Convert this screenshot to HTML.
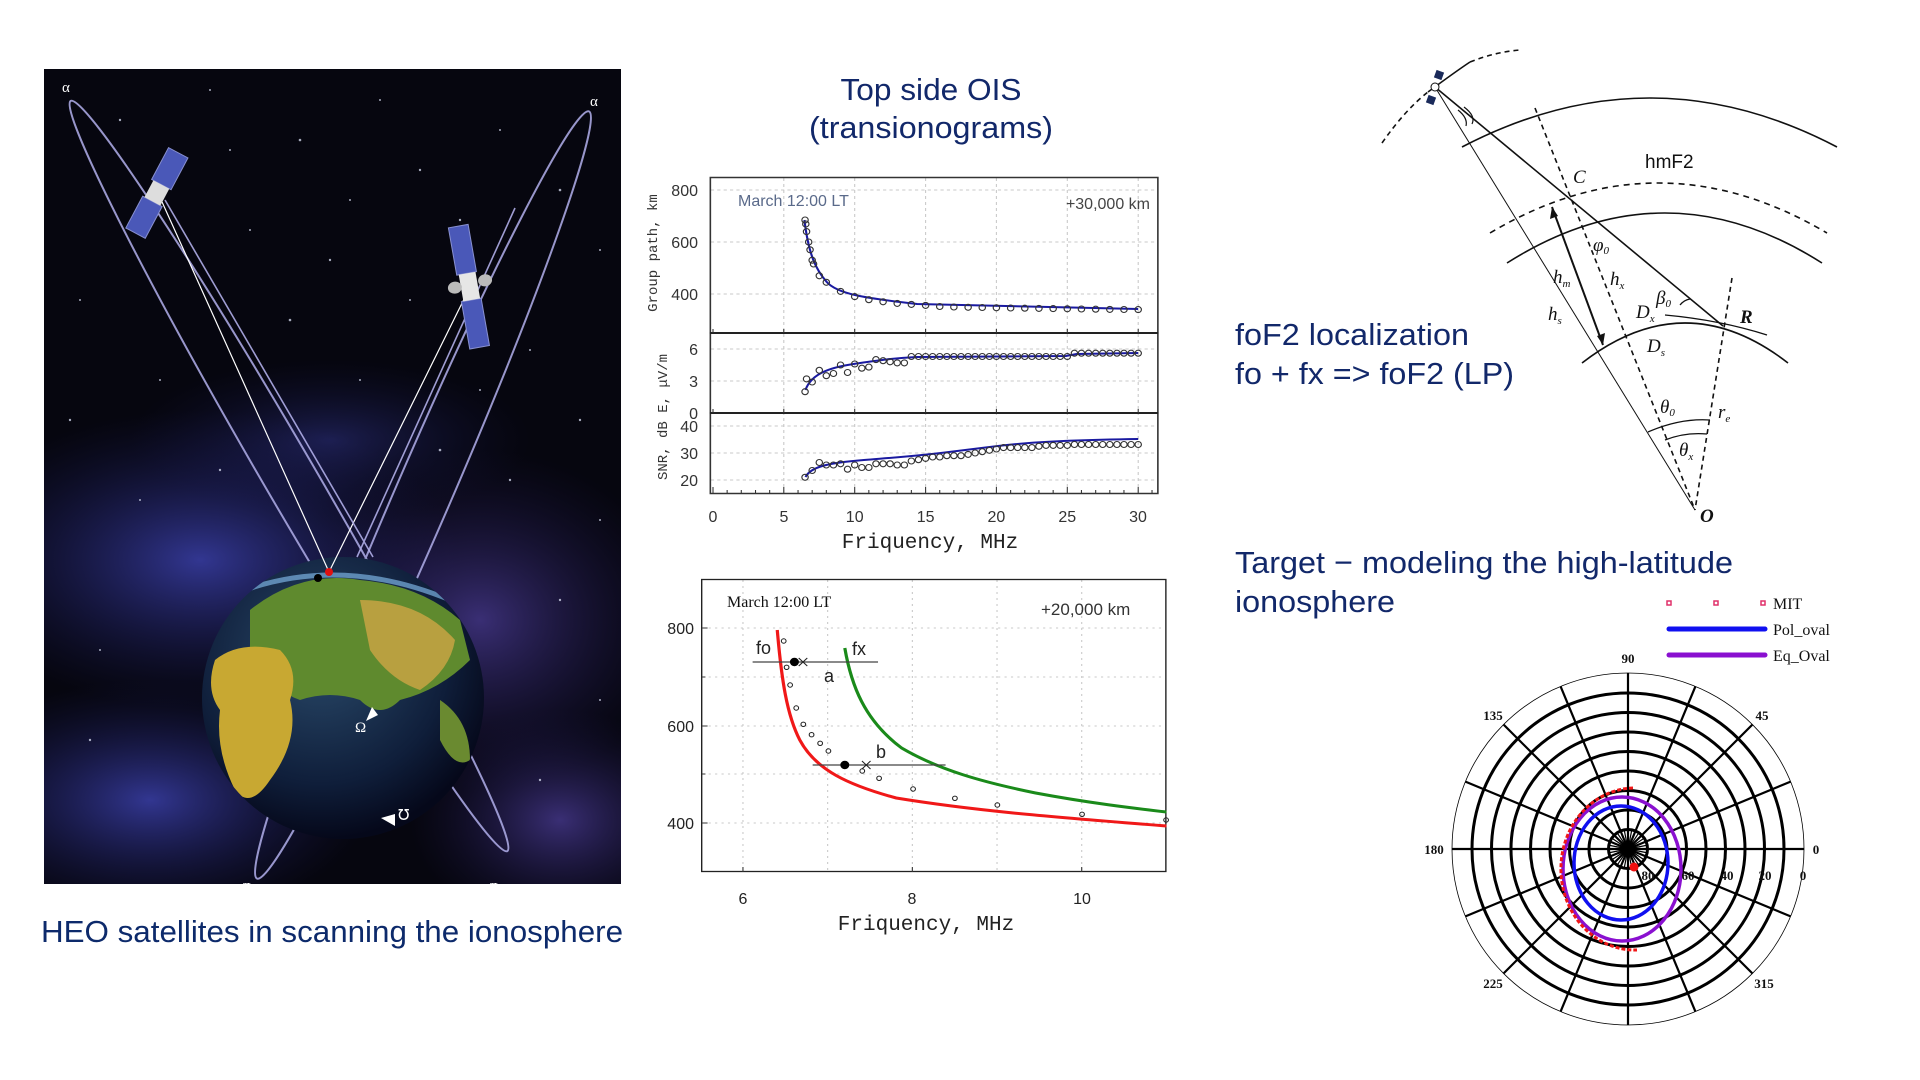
<!DOCTYPE html>
<html><head><meta charset="utf-8"><style>
html,body{margin:0;padding:0;background:#fff;}
svg{display:block;}
</style></head><body>
<svg xmlns="http://www.w3.org/2000/svg" width="1920" height="1080" viewBox="0 0 1920 1080">
<defs>
<radialGradient id="neb1" cx="0.5" cy="0.5" r="0.5"><stop offset="0" stop-color="#3a3fa8" stop-opacity="0.85"/><stop offset="1" stop-color="#1a1a55" stop-opacity="0"/></radialGradient>
<radialGradient id="neb2" cx="0.5" cy="0.5" r="0.5"><stop offset="0" stop-color="#5040a0" stop-opacity="0.7"/><stop offset="1" stop-color="#201850" stop-opacity="0"/></radialGradient>
<radialGradient id="earth" cx="0.42" cy="0.35" r="0.65"><stop offset="0" stop-color="#2a4a6a"/><stop offset="0.7" stop-color="#0f1e3a"/><stop offset="1" stop-color="#05081a"/></radialGradient>
<clipPath id="lclip"><rect x="44" y="69" width="577" height="815"/></clipPath>
<clipPath id="eclip"><circle cx="343" cy="698" r="141"/></clipPath>
</defs>

<!-- LEFT IMAGE -->
<g clip-path="url(#lclip)">
<rect x="44" y="69" width="577" height="815" fill="#06060f"/>
<ellipse cx="200" cy="560" rx="260" ry="150" fill="url(#neb1)"/>
<ellipse cx="480" cy="620" rx="200" ry="170" fill="url(#neb2)"/>
<ellipse cx="150" cy="800" rx="220" ry="120" fill="url(#neb1)"/>
<ellipse cx="560" cy="820" rx="150" ry="110" fill="url(#neb2)"/>
<ellipse cx="330" cy="440" rx="200" ry="80" fill="url(#neb1)" opacity="0.5"/>
<g fill="#cfd4e8" opacity="0.8">
<circle cx="120" cy="120" r="1.2"/><circle cx="210" cy="90" r="1"/><circle cx="300" cy="140" r="1.3"/><circle cx="380" cy="100" r="1"/><circle cx="420" cy="170" r="1.2"/><circle cx="500" cy="130" r="1"/><circle cx="560" cy="190" r="1.3"/><circle cx="600" cy="250" r="1"/><circle cx="250" cy="230" r="1"/><circle cx="330" cy="260" r="1.2"/><circle cx="410" cy="300" r="1"/><circle cx="290" cy="320" r="1.3"/><circle cx="530" cy="350" r="1"/><circle cx="580" cy="420" r="1.2"/><circle cx="80" cy="300" r="1"/><circle cx="70" cy="420" r="1.2"/><circle cx="160" cy="380" r="1"/><circle cx="220" cy="470" r="1.2"/><circle cx="360" cy="380" r="1"/><circle cx="440" cy="450" r="1.3"/><circle cx="600" cy="520" r="1"/><circle cx="560" cy="600" r="1.2"/><circle cx="100" cy="650" r="1"/><circle cx="90" cy="740" r="1.2"/><circle cx="600" cy="700" r="1"/><circle cx="540" cy="780" r="1.2"/><circle cx="230" cy="150" r="1"/><circle cx="460" cy="220" r="1.2"/><circle cx="350" cy="200" r="1"/><circle cx="140" cy="500" r="1"/><circle cx="510" cy="480" r="1.2"/><circle cx="480" cy="390" r="1"/>
</g>
<g fill="none" stroke="#a8a6e0" stroke-width="2" opacity="0.9">
<ellipse cx="289" cy="476" rx="434" ry="26" transform="rotate(59.8 289 476)"/>
<ellipse cx="423" cy="495" rx="418" ry="28" transform="rotate(113.4 423 495)"/>
</g>
<circle cx="343" cy="698" r="141" fill="url(#earth)"/>
<g clip-path="url(#eclip)">
<path d="M250 610 Q300 570 360 580 Q420 585 460 620 L470 660 Q440 690 400 700 Q380 720 360 700 Q330 690 300 700 Q270 690 250 650Z" fill="#5f8a2e"/>
<path d="M215 660 Q240 640 280 650 Q300 670 290 700 Q300 740 270 780 Q250 810 235 790 Q215 750 220 710 Q205 690 215 660Z" fill="#c8a832"/>
<path d="M360 600 Q420 600 455 640 Q450 670 420 690 Q390 680 370 650Z" fill="#b8a040"/>
<path d="M440 700 Q470 720 470 760 Q455 770 440 740Z" fill="#6a8a30"/>
<path d="M220 600 Q330 550 450 600" fill="none" stroke="#7ab0e0" stroke-width="5" opacity="0.7"/>
</g>
<g stroke="#ffffff" stroke-width="1.2" fill="none"><path d="M158 193 L329 572 L470 287"/></g>
<g stroke="#b0aee8" stroke-width="1.6" fill="none" opacity="0.9"><path d="M165 200 L373 557"/><path d="M515 208 L357 557"/></g>
<circle cx="329" cy="572" r="4" fill="#e01010"/>
<circle cx="318" cy="578" r="4" fill="#000"/>
<g transform="rotate(28 158 193)"><rect x="146" y="148" width="22" height="36" fill="#4a58b8" stroke="#8890d0"/><rect x="146" y="203" width="22" height="36" fill="#4a58b8" stroke="#8890d0"/><rect x="148" y="184" width="18" height="19" fill="#ddd"/></g>
<g transform="rotate(-10 470 287)"><rect x="459" y="225" width="20" height="48" fill="#4a58b8" stroke="#8890d0"/><rect x="459" y="300" width="20" height="48" fill="#4a58b8" stroke="#8890d0"/><rect x="461" y="273" width="17" height="27" fill="#e6e6e6"/><ellipse cx="455" cy="285" rx="7" ry="6" fill="#bbb"/><ellipse cx="486" cy="283" rx="7" ry="6" fill="#bbb"/></g>
<path d="M378 715 l-12 6 l6 -14z" fill="#fff"/><path d="M395 826 l-14 -8 l14 -4z" fill="#fff"/>
<g fill="#fff" font-family="Liberation Serif, serif" font-size="15">
<text x="62" y="92">α</text><text x="590" y="106">α</text>
<text x="243" y="890">π</text><text x="490" y="890">π</text>
<text x="355" y="732">Ω</text><text x="398" y="820">℧</text>
</g>
</g>
<text x="41" y="942" font-family="Liberation Sans, sans-serif" font-size="31" fill="#0d2a6b" textLength="582" lengthAdjust="spacingAndGlyphs">HEO satellites in scanning the ionosphere</text>

<!-- TOP CHART -->
<g font-family="Liberation Sans, sans-serif" fill="#12286a" font-size="31" text-anchor="middle">
<text x="931" y="100" textLength="181" lengthAdjust="spacingAndGlyphs">Top side OIS</text>
<text x="931" y="138" textLength="244" lengthAdjust="spacingAndGlyphs">(transionograms)</text>
</g>
<g transform="translate(-39.6,0) scale(1.063,1)">
<g stroke="#c8c8c8" stroke-width="1" stroke-dasharray="3,3">
<path d="M774.6 178V492M841.3 178V492M908 178V492M974.6 178V492M1041.3 178V492M1108 178V492"/>
<path d="M706 190H1126M706 242H1126M706 294H1126M706 349H1126M706 381H1126M706 426H1126M706 453H1126M706 480H1126"/>
</g>
<rect x="705.5" y="177.5" width="421" height="316" fill="none" stroke="#333" stroke-width="1.5"/>
<path d="M705 333H1127M705 413H1127" stroke="#222" stroke-width="2"/>
<g stroke="#333" stroke-width="1"><path d="M708 493v-6M774.6 493v-6M841.3 493v-6M908 493v-6M974.6 493v-6M1041.3 493v-6M1108 493v-6M721.3 493v-3M734.6 493v-3M748 493v-3M761.3 493v-3M788 493v-3M801.3 493v-3M814.6 493v-3M828 493v-3M854.6 493v-3M868 493v-3M881.3 493v-3M894.6 493v-3M921.3 493v-3M934.6 493v-3M948 493v-3M961.3 493v-3M988 493v-3M1001.3 493v-3M1014.6 493v-3M1028 493v-3M1054.6 493v-3M1068 493v-3M1081.3 493v-3M1094.6 493v-3M1121 493v-3"/>
<path d="M708 333v-4M774.6 333v-4M841.3 333v-4M908 333v-4M974.6 333v-4M1041.3 333v-4M1108 333v-4M708 413v-4M774.6 413v-4M841.3 413v-4M908 413v-4M974.6 413v-4M1041.3 413v-4M1108 413v-4"/></g>
<g fill="none" stroke="#1a1aa0" stroke-width="2">
<path d="M794 220 C798 255 805 270 815 282 S850 298 900 304 L1108 309"/>
<path d="M795 390 C800 375 815 368 840 364 S880 358 900 357 L1040 356 L1050 354 L1108 353"/>
<path d="M795 477 C800 467 815 463 850 460 S900 456 930 452 S960 448 980 445.5 S1040 440 1108 439"/>
</g>
<g fill="none" stroke="#333" stroke-width="1.1">
<circle cx="794.6" cy="220" r="3"/><circle cx="795.3" cy="224" r="3"/><circle cx="796" cy="231.6" r="3"/><circle cx="798" cy="242" r="3"/><circle cx="799.3" cy="249.8" r="3"/><circle cx="801.3" cy="260.2" r="3"/><circle cx="802.6" cy="264" r="3"/><circle cx="808" cy="275.8" r="3"/><circle cx="814.6" cy="282.3" r="3"/><circle cx="828" cy="291.4" r="3"/><circle cx="841.3" cy="296.6" r="3"/><circle cx="854.6" cy="299.7" r="3"/><circle cx="868" cy="301.8" r="3"/><circle cx="881.3" cy="303.4" r="3"/><circle cx="894.6" cy="304.4" r="3"/><circle cx="908" cy="305.4" r="3"/><circle cx="921.3" cy="306.5" r="3"/><circle cx="934.6" cy="307" r="3"/><circle cx="948" cy="307.3" r="3"/><circle cx="961.3" cy="307.5" r="3"/><circle cx="974.6" cy="307.8" r="3"/><circle cx="988" cy="308" r="3"/><circle cx="1001.3" cy="308.2" r="3"/><circle cx="1014.6" cy="308.4" r="3"/><circle cx="1028" cy="308.6" r="3"/><circle cx="1041.3" cy="308.8" r="3"/><circle cx="1054.6" cy="309" r="3"/><circle cx="1068" cy="309.2" r="3"/><circle cx="1081.3" cy="309.4" r="3"/><circle cx="1094.6" cy="309.5" r="3"/><circle cx="1108" cy="309.6" r="3"/>
<circle cx="794.6" cy="391.7" r="3"/><circle cx="796" cy="378.9" r="3"/><circle cx="801.3" cy="382" r="3"/><circle cx="808" cy="370.3" r="3"/><circle cx="814.6" cy="375.7" r="3"/><circle cx="821.3" cy="373.5" r="3"/><circle cx="828" cy="365" r="3"/><circle cx="834.6" cy="372.5" r="3"/><circle cx="841.3" cy="364" r="3"/><circle cx="848" cy="368.2" r="3"/><circle cx="854.6" cy="367.1" r="3"/><circle cx="861.3" cy="359.6" r="3"/><circle cx="868" cy="360.7" r="3"/><circle cx="874.6" cy="361.8" r="3"/><circle cx="881.3" cy="362.9" r="3"/><circle cx="888" cy="362.9" r="3"/>
<circle cx="894.6" cy="356.5" r="3"/><circle cx="901.3" cy="356.5" r="3"/><circle cx="908" cy="356.5" r="3"/><circle cx="914.6" cy="356.5" r="3"/><circle cx="921.3" cy="356.5" r="3"/><circle cx="928" cy="356.5" r="3"/><circle cx="934.6" cy="356.5" r="3"/><circle cx="941.3" cy="356.5" r="3"/><circle cx="948" cy="356.5" r="3"/><circle cx="954.6" cy="356.5" r="3"/><circle cx="961.3" cy="356.5" r="3"/><circle cx="968" cy="356.5" r="3"/><circle cx="974.6" cy="356.5" r="3"/><circle cx="981.3" cy="356.5" r="3"/><circle cx="988" cy="356.5" r="3"/><circle cx="994.6" cy="356.5" r="3"/><circle cx="1001.3" cy="356.5" r="3"/><circle cx="1008" cy="356.5" r="3"/><circle cx="1014.6" cy="356.5" r="3"/><circle cx="1021.3" cy="356.5" r="3"/><circle cx="1028" cy="356.5" r="3"/><circle cx="1034.6" cy="356.5" r="3"/><circle cx="1041.3" cy="356.5" r="3"/>
<circle cx="1048" cy="353.2" r="3"/><circle cx="1054.6" cy="353.2" r="3"/><circle cx="1061.3" cy="353.2" r="3"/><circle cx="1068" cy="353.2" r="3"/><circle cx="1074.6" cy="353.2" r="3"/><circle cx="1081.3" cy="353.2" r="3"/><circle cx="1088" cy="353.2" r="3"/><circle cx="1094.6" cy="353.2" r="3"/><circle cx="1101.3" cy="353.2" r="3"/><circle cx="1108" cy="353.2" r="3"/>
<circle cx="794.6" cy="477.3" r="3"/><circle cx="801.3" cy="470.5" r="3"/><circle cx="808" cy="462.5" r="3"/><circle cx="814.6" cy="465" r="3"/><circle cx="821.3" cy="465" r="3"/><circle cx="828" cy="463.8" r="3"/><circle cx="834.6" cy="469.2" r="3"/><circle cx="841.3" cy="465" r="3"/><circle cx="848" cy="467.5" r="3"/><circle cx="854.6" cy="467.5" r="3"/><circle cx="861.3" cy="463.8" r="3"/><circle cx="868" cy="463.8" r="3"/><circle cx="874.6" cy="463.8" r="3"/><circle cx="881.3" cy="465" r="3"/><circle cx="888" cy="465" r="3"/><circle cx="894.6" cy="461" r="3"/><circle cx="901.3" cy="459.7" r="3"/><circle cx="908" cy="458.4" r="3"/><circle cx="914.6" cy="457" r="3"/><circle cx="921.3" cy="457" r="3"/><circle cx="928" cy="455.7" r="3"/><circle cx="934.6" cy="455.7" r="3"/><circle cx="941.3" cy="455.7" r="3"/><circle cx="948" cy="454.4" r="3"/><circle cx="954.6" cy="453" r="3"/><circle cx="961.3" cy="451.7" r="3"/><circle cx="968" cy="450.3" r="3"/><circle cx="974.6" cy="449" r="3"/><circle cx="981.3" cy="447.6" r="3"/><circle cx="988" cy="447.6" r="3"/><circle cx="994.6" cy="447.6" r="3"/><circle cx="1001.3" cy="447.6" r="3"/><circle cx="1008" cy="447.6" r="3"/><circle cx="1014.6" cy="446.3" r="3"/><circle cx="1021.3" cy="445.4" r="3"/><circle cx="1028" cy="445.4" r="3"/><circle cx="1034.6" cy="445.4" r="3"/><circle cx="1041.3" cy="445.4" r="3"/><circle cx="1048" cy="444.5" r="3"/><circle cx="1054.6" cy="444.5" r="3"/><circle cx="1061.3" cy="444.5" r="3"/><circle cx="1068" cy="444.5" r="3"/><circle cx="1074.6" cy="444.5" r="3"/><circle cx="1081.3" cy="444.5" r="3"/><circle cx="1088" cy="444.5" r="3"/><circle cx="1094.6" cy="444.5" r="3"/><circle cx="1101.3" cy="444.5" r="3"/><circle cx="1108" cy="444.5" r="3"/>
</g>
</g>
<g font-family="Liberation Sans, sans-serif" font-size="16" fill="#333" text-anchor="end">
<text x="698" y="196">800</text><text x="698" y="248">600</text><text x="698" y="300">400</text>
<text x="698" y="355">6</text><text x="698" y="387">3</text><text x="698" y="419">0</text>
<text x="698" y="432">40</text><text x="698" y="459">30</text><text x="698" y="486">20</text>
</g>
<g font-family="Liberation Sans, sans-serif" font-size="16" fill="#333" text-anchor="middle">
<text x="713" y="522">0</text><text x="783.9" y="522">5</text><text x="854.7" y="522">10</text><text x="925.6" y="522">15</text><text x="996.4" y="522">20</text><text x="1067.3" y="522">25</text><text x="1138" y="522">30</text>
</g>
<text x="930" y="548" font-family="Liberation Mono, monospace" font-size="21" text-anchor="middle" fill="#222">Friquency, MHz</text>
<text transform="translate(657,253) rotate(-90)" font-family="Liberation Mono, monospace" font-size="14" text-anchor="middle" fill="#333">Group path, km</text>
<text transform="translate(667,417) rotate(-90)" font-family="Liberation Mono, monospace" font-size="14" text-anchor="middle" fill="#333">SNR, dB  E, μV/m</text>
<text x="738" y="206" font-family="Liberation Sans, sans-serif" font-size="16" fill="#5a6a8a">March  12:00 LT</text>
<text x="1150" y="209" font-family="Liberation Sans, sans-serif" font-size="16" fill="#444" text-anchor="end">+30,000 km</text>

<!-- BOTTOM CHART -->
<g transform="translate(-47.1,0) scale(1.072,1)">
<g stroke="#c8c8c8" stroke-width="1" stroke-dasharray="2,4">
<path d="M737 580V871M816 580V871M895 580V871M974 580V871M1053 580V871"/>
<path d="M699 628H1131M699 677H1131M699 726H1131M699 774H1131M699 823H1131"/>
</g>
<rect x="698.5" y="579.5" width="433" height="292" fill="none" stroke="#222" stroke-width="1.3"/>
<g stroke="#333"><path d="M737 872v-5M895 872v-5M1053 872v-5M699 628h5M699 677h3M699 726h5M699 774h3M699 823h5"/></g>
<path d="M769 630 C773 680 778 715 790 740 C805 770 835 785 880 798 C960 812 1040 818 1132 826" fill="none" stroke="#f01818" stroke-width="3"/>
<path d="M832 648 C838 685 850 720 885 748 C920 770 960 782 1010 793 C1060 803 1100 808 1132 812" fill="none" stroke="#1a8a1a" stroke-width="3"/>
<g fill="none" stroke="#222" stroke-width="1"><path d="M746 662H863M802 765H926" stroke="#444" stroke-width="1.3"/>
<circle cx="775" cy="641" r="2.2"/><circle cx="777.7" cy="667.3" r="2.2"/><circle cx="781" cy="685" r="2.2"/><circle cx="786.7" cy="708" r="2.2"/><circle cx="793.3" cy="724.3" r="2.2"/><circle cx="801" cy="734.7" r="2.2"/><circle cx="809" cy="743.3" r="2.2"/><circle cx="816.7" cy="751" r="2.2"/><circle cx="848.3" cy="771" r="2.2"/><circle cx="864" cy="778.3" r="2.2"/><circle cx="895.7" cy="789" r="2.2"/><circle cx="934.7" cy="798.3" r="2.2"/><circle cx="974.3" cy="805" r="2.2"/><circle cx="1053.3" cy="814.3" r="2.2"/><circle cx="1131.7" cy="820" r="2.2"/>
<path d="M789 658l8 8M797 658l-8 8M848 761l8 8M856 761l-8 8"/></g>
<circle cx="785" cy="662" r="4.2" fill="#000"/><circle cx="832" cy="765" r="4.2" fill="#000"/>
</g>
<g font-family="Liberation Sans, sans-serif" font-size="16" fill="#222" text-anchor="end">
<text x="694" y="634">800</text><text x="694" y="732">600</text><text x="694" y="829">400</text>
</g>
<g font-family="Liberation Sans, sans-serif" font-size="16" fill="#222" text-anchor="middle">
<text x="743" y="904">6</text><text x="912" y="904">8</text><text x="1082" y="904">10</text>
</g>
<text x="926" y="930" font-family="Liberation Mono, monospace" font-size="21" text-anchor="middle" fill="#222">Friquency, MHz</text>
<text x="727" y="607" font-family="Liberation Serif, serif" font-size="16" fill="#111">March  12:00 LT</text>
<text x="1041" y="615" font-family="Liberation Sans, sans-serif" font-size="17" fill="#333">+20,000 km</text>
<g font-family="Liberation Sans, sans-serif" font-size="18" fill="#222">
<text x="756" y="654">fo</text><text x="852" y="655">fx</text><text x="824" y="682">a</text><text x="876" y="758">b</text>
</g>

<!-- RIGHT TEXTS -->
<g font-family="Liberation Sans, sans-serif" font-size="31" fill="#12286a">
<text x="1235" y="345" textLength="234" lengthAdjust="spacingAndGlyphs">foF2 localization</text>
<text x="1235" y="384" textLength="279" lengthAdjust="spacingAndGlyphs">fo + fx =&gt; foF2 (LP)</text>
<text x="1235" y="573" textLength="498" lengthAdjust="spacingAndGlyphs">Target − modeling the high-latitude</text>
<text x="1235" y="612" textLength="160" lengthAdjust="spacingAndGlyphs">ionosphere</text>
</g>

<!-- DIAGRAM -->
<g fill="none" stroke="#111" stroke-width="1.6">
<path d="M1462 147 Q1650 49 1837 147"/>
<path d="M1507 263 Q1665 163 1822 263"/>
<path d="M1582 363 Q1685 283 1788 363"/>
<path d="M1490 233 Q1658 133 1827 233" stroke-dasharray="6,5"/>
<path d="M1382 143 Q1405 110 1428 92" stroke-dasharray="5,4"/>
<path d="M1428 92 Q1455 72 1470 62"/>
<path d="M1470 62 Q1495 52 1520 50" stroke-dasharray="5,4"/>
<path d="M1435 87 L1723 326"/>
<path d="M1435 87 L1695 510" stroke-width="1"/>
<path d="M1535 108 L1695 510" stroke-dasharray="5,4"/>
<path d="M1732 278 L1695 510" stroke-dasharray="5,4"/>
<path d="M1665 315 Q1720 320 1767 335" stroke-width="1.3"/>
<path d="M1552 207 L1603 345" stroke-width="2"/>
<path d="M1648 432 Q1680 418 1710 420" stroke-width="1.3"/>
<path d="M1665 440 Q1685 432 1707 434" stroke-width="1.3"/>
<path d="M1680 305 Q1684 300 1690 299" stroke-width="1.3"/>
<path d="M1458 110 Q1468 118 1466 126M1464 107 Q1476 116 1472 124" stroke-width="1.2"/>
</g>
<path d="M1552 207 l-2 12 l8 -3z" fill="#111"/><path d="M1603 345 l2 -12 l-8 3z" fill="#111"/>
<circle cx="1435" cy="87" r="4" fill="#fff" stroke="#111"/>
<rect x="1435" y="71" width="8" height="8" fill="#1a2a5a" transform="rotate(20 1439 75)"/>
<rect x="1427" y="96" width="8" height="8" fill="#1a2a5a" transform="rotate(20 1431 100)"/>
<text x="1645" y="168" font-family="Liberation Sans, sans-serif" font-size="19" fill="#111">hmF2</text>
<g font-family="Liberation Serif, serif" font-style="italic" font-size="19" fill="#111">
<text x="1573" y="183">C</text>
<text x="1593" y="251">φ<tspan font-size="11" dy="3">0</tspan></text>
<text x="1553" y="283">h<tspan font-size="11" dy="4">m</tspan></text>
<text x="1610" y="285">h<tspan font-size="11" dy="4">x</tspan></text>
<text x="1548" y="320">h<tspan font-size="11" dy="4">s</tspan></text>
<text x="1656" y="304">β<tspan font-size="11" dy="3">0</tspan></text>
<text x="1636" y="318">D<tspan font-size="11" dy="4">x</tspan></text>
<text x="1647" y="352">D<tspan font-size="11" dy="4">s</tspan></text>
<text x="1660" y="413">θ<tspan font-size="11" dy="3">0</tspan></text>
<text x="1718" y="418">r<tspan font-size="11" dy="4">e</tspan></text>
<text x="1679" y="456">θ<tspan font-size="11" dy="4">x</tspan></text>
<text x="1740" y="323" font-weight="bold">R</text>
<text x="1700" y="522" font-weight="bold">O</text>
</g>

<!-- POLAR -->
<g fill="none" stroke="#000">
<circle cx="1628" cy="849" r="176" stroke-width="0.8"/>
<g stroke-width="3"><circle cx="1628" cy="849" r="19.5"/><circle cx="1628" cy="849" r="39"/><circle cx="1628" cy="849" r="58.5"/><circle cx="1628" cy="849" r="78"/><circle cx="1628" cy="849" r="97.5"/><circle cx="1628" cy="849" r="117"/><circle cx="1628" cy="849" r="136.5"/><circle cx="1628" cy="849" r="156"/></g>
<g stroke-width="2.2">
<path d="M1452 849H1804M1628 673V1025"/>
<path d="M1465.4 781.6L1790.6 916.4M1465.4 916.4L1790.6 781.6M1560.6 686.4L1695.4 1011.6M1695.4 686.4L1560.6 1011.6M1503.5 724.5L1752.5 973.5M1752.5 724.5L1503.5 973.5"/>
</g>
<g stroke-width="1.2"><path d="M1608.4 845.1L1647.6 852.9M1608.4 852.9L1647.6 845.1M1611.4 837.9L1644.6 860.1M1611.4 860.1L1644.6 837.9M1616.9 832.4L1639.1 865.6M1616.9 865.6L1639.1 832.4M1624.1 829.4L1631.9 868.6M1624.1 868.6L1631.9 829.4"/></g>
</g>
<ellipse cx="1621" cy="863" rx="47" ry="57" fill="none" stroke="#1010f0" stroke-width="3.5"/>
<ellipse cx="1622" cy="869" rx="59" ry="72" fill="none" stroke="#8a10d0" stroke-width="3.5"/>
<path d="M1633 788 A74 81 0 1 0 1637 950" fill="none" stroke="#f01818" stroke-width="3" stroke-dasharray="4,2"/>
<circle cx="1634" cy="867" r="4.5" fill="#f01010"/>
<g font-family="Liberation Serif, serif" font-weight="bold" font-size="13" fill="#111" text-anchor="middle">
<text x="1628" y="663">90</text><text x="1493" y="720">135</text><text x="1762" y="720">45</text>
<text x="1434" y="854">180</text><text x="1816" y="854">0</text>
<text x="1493" y="988">225</text><text x="1764" y="988">315</text>
<text x="1648" y="880">80</text><text x="1688" y="880">60</text><text x="1727" y="880">40</text><text x="1765" y="880">20</text><text x="1803" y="880">0</text>
</g>
<g fill="none" stroke="#e0306a" stroke-width="1.5"><rect x="1667" y="601" width="4" height="4"/><rect x="1714" y="601" width="4" height="4"/><rect x="1761" y="601" width="4" height="4"/></g>
<path d="M1669 629H1765" stroke="#1010f0" stroke-width="5" stroke-linecap="round"/>
<path d="M1669 655H1765" stroke="#8a10d0" stroke-width="5" stroke-linecap="round"/>
<g font-family="Liberation Serif, serif" font-size="16" fill="#111">
<text x="1773" y="609">MIT</text><text x="1773" y="635">Pol_oval</text><text x="1773" y="661">Eq_Oval</text>
</g>
</svg>
</body></html>
